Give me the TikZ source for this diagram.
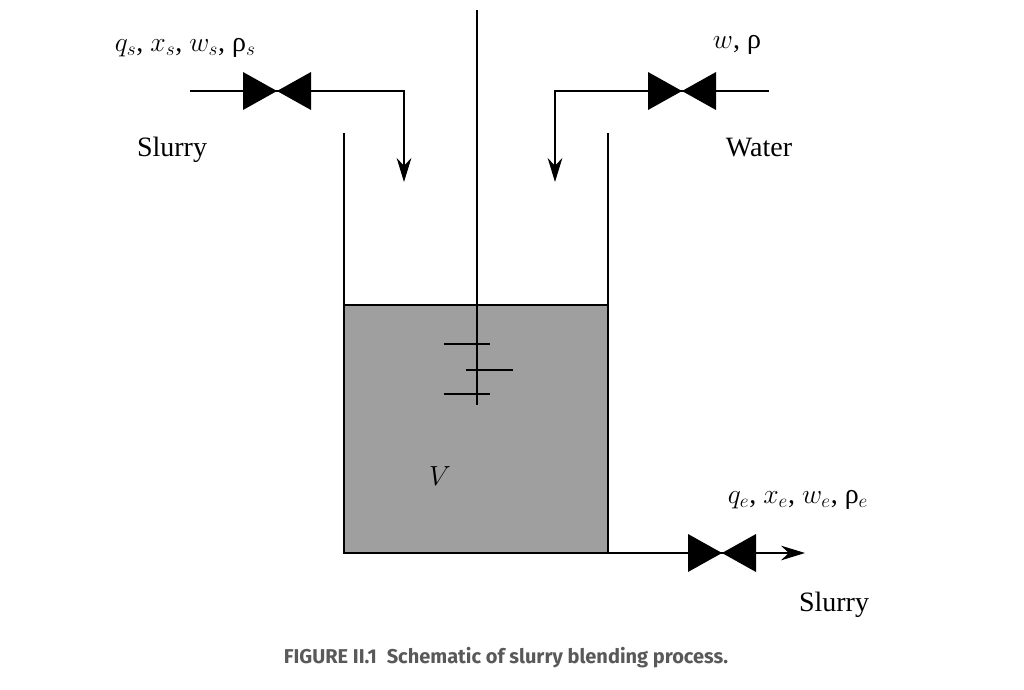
\documentclass[tikz,border=0pt]{standalone}
\usepackage{fontspec}
\setmainfont{Liberation Serif}
\newfontfamily\capfont{Fira Sans}
\usetikzlibrary{arrows.meta}
\begin{document}
\begin{tikzpicture}[x=0.75pt,y=-0.75pt,line width=1.3pt,
  lbl/.style={font=\fontsize{21}{24}\selectfont,inner sep=0pt},
  arr/.style={-{Stealth[length=18pt,width=11pt]}},
  imp/.style={line width=1.3pt}]
\useasboundingbox (0,0) rectangle (1024,689);
% tank
\fill[gray!75] (344,305) rectangle (608,553);
\draw (344,133) -- (344,553) -- (608,553) -- (608,133);
\draw (344,305) -- (608,305);
% shaft & impeller
\coordinate (st) at (477,10);
\coordinate (sb) at (477,405);
\draw (st) -- (sb);
\draw[imp] (444,344) -- (490,344) (466,370) -- (513,370) (444,394) -- (490,394);
% valves
\newcommand{\valve}[2]{\fill (#1-34,#2-19) -- (#1+34,#2+19) -- (#1+34,#2-19) -- (#1-34,#2+19) -- cycle;}
\valve{277}{91}
\valve{682}{91}
\valve{722}{553}
% pipes
\coordinate (s0) at (190,91);
\coordinate (s1) at (404,182);
\draw[arr] (s0) -- (404,91) -- (s1);
\coordinate (w0) at (769,91);
\coordinate (w1) at (555,182);
\draw[arr] (w0) -- (555,91) -- (w1);
\coordinate (o0) at (608,553);
\coordinate (o1) at (805,553);
\draw[arr] (o0) -- (o1);
% labels
\node[lbl,anchor=west] (l1) at (114,48) {$q_s$, $x_s$, $w_s$, ρ$_s$};
\node[lbl] (l2) at (172,150) {Slurry};
\node[lbl] (l3) at (737,45) {$w$, ρ};
\node[lbl] (l4) at (759,148) {Water};
\node[lbl] (l5) at (440,476) {$V$};
\node[lbl,anchor=west] (l6) at (727,500) {$q_e$, $x_e$, $w_e$, ρ$_e$};
\node[lbl] (l7) at (834,605) {Slurry};
\node[font=\capfont\fontsize{15}{18}\selectfont,text=black!65,inner sep=0pt] (cap) at (506,658) {\textbf{FIGURE II.1}\enspace\textbf{Schematic of slurry blending process.}};
\end{tikzpicture}
\end{document}
